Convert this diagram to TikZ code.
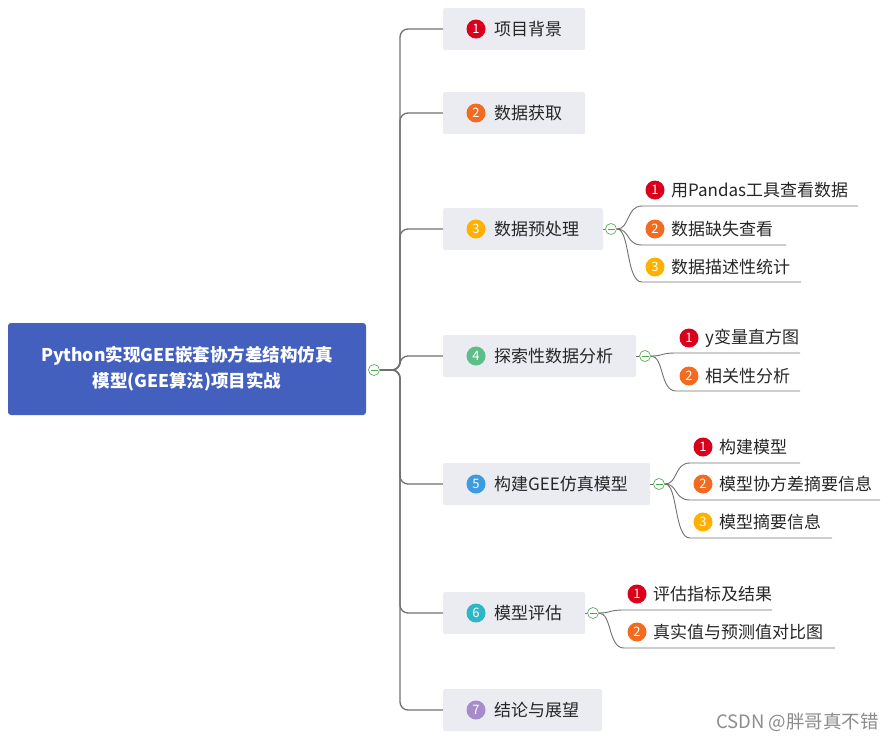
\documentclass[tikz,border=0pt]{standalone}
\usepackage{fontspec}
\setmainfont{Noto Sans CJK SC}
\begin{document}
\begin{tikzpicture}[x=1pt,y=-1pt,
  num/.style={circle,inner sep=0pt,minimum size=19pt,text=white,font=\fontsize{13}{13}\selectfont},
  lbl/.style={anchor=west,inner sep=0pt,font=\fontsize{17}{18}\selectfont,text=black!85},
  ln/.style={draw=linegray,line width=0.9pt},
  col/.style={circle,draw=green!50!black!70,fill=white,inner sep=0pt,minimum size=11pt,line width=0.6pt}]
\definecolor{boxgray}{HTML}{EBEBF2}
\definecolor{linegray}{HTML}{707070}
\definecolor{rootblue}{HTML}{4460BE}
\definecolor{c1}{HTML}{D9001B}\definecolor{c2}{HTML}{F26B21}\definecolor{c3}{HTML}{FFB000}
\definecolor{c4}{HTML}{5DBE8A}\definecolor{c5}{HTML}{3D9BE0}\definecolor{c6}{HTML}{2DB7C6}\definecolor{c7}{HTML}{A78CCB}
\useasboundingbox (0,0) rectangle (894,742);
% root
\node[fill=rootblue,rounded corners=3pt,minimum width=358pt,minimum height=92pt,align=center,text=white,font=\bfseries\fontsize{17.5}{26}\selectfont] (root) at (187,369) {Python实现GEE嵌套协方差结构仿真\\模型(GEE算法)项目实战};
% branches
\foreach \y/\w/\n [count=\i] in {29/142/a,113/142/b,229/160/c,356/193/d,484/207/e,613/142/f,710/159/g}{
  \draw[ln,line width=1.3pt,rounded corners=8pt] (380,370) -- (400,370) -- (400,\y) -- (443,\y);
  \fill[boxgray,rounded corners=2pt] (443,\y-21) rectangle ++(\w,42);
  \coordinate (b\n) at (443+\w,\y);
}
\node[col] (rc) at (374,370) {}; \draw[green!50!black!70,line width=0.6pt] (370.5,370)--(377.5,370);
\foreach \y/\c/\k/\t in {29/c1/1/项目背景,113/c2/2/数据获取,229/c3/3/数据预处理,356/c4/4/探索性数据分析,484/c5/5/构建GEE仿真模型,613/c6/6/模型评估,710/c7/7/结论与展望}{
  \node[num,fill=\c] (n\k) at (476,\y) {\k};
  \node[lbl] (t\k) at (494,\y) {\t};
}
% group 3
\draw[ln] (bc) -- (605,229);
\foreach \ty/\uy/\ex/\c/\k/\t in {190/206/858/c1/1/用Pandas工具查看数据,229/245/786/c2/2/数据缺失查看,267/282/801/c3/3/数据描述性统计}{
  \draw[ln] (617,229) .. controls (630,229) and (626,\uy) .. (642,\uy) -- (\ex,\uy);
  \node[num,fill=\c] at (655,\ty) {\k}; \node[lbl] at (671,\ty) {\t};}
\node[col] at (611,229) {}; \draw[green!50!black!70,line width=0.6pt] (607.5,229)--(614.5,229);
% group 4
\draw[ln] (bd) -- (639,356);
\foreach \ty/\uy/\ex/\c/\k/\t in {338/353/800/c1/1/y变量直方图,376/391/800/c2/2/相关性分析}{
  \draw[ln] (651,356) .. controls (664,356) and (660,\uy) .. (676,\uy) -- (\ex,\uy);
  \node[num,fill=\c] at (689,\ty) {\k}; \node[lbl] at (705,\ty) {\t};}
\node[col] at (645,356) {}; \draw[green!50!black!70,line width=0.6pt] (641.5,356)--(648.5,356);
% group 5
\draw[ln] (be) -- (653,484);
\foreach \ty/\uy/\ex/\c/\k/\t in {447/463/800/c1/1/构建模型,484/500/880/c2/2/模型协方差摘要信息,522/538/832/c3/3/模型摘要信息}{
  \draw[ln] (665,484) .. controls (678,484) and (674,\uy) .. (690,\uy) -- (\ex,\uy);
  \node[num,fill=\c] at (703,\ty) {\k}; \node[lbl] at (719,\ty) {\t};}
\node[col] at (659,484) {}; \draw[green!50!black!70,line width=0.6pt] (655.5,484)--(662.5,484);
% group 6
\draw[ln] (bf) -- (587,613);
\foreach \ty/\uy/\ex/\c/\k/\t in {594/610/772/c1/1/评估指标及结果,632/648/835/c2/2/真实值与预测值对比图}{
  \draw[ln] (599,613) .. controls (612,613) and (608,\uy) .. (624,\uy) -- (\ex,\uy);
  \node[num,fill=\c] at (637,\ty) {\k}; \node[lbl] at (653,\ty) {\t};}
\node[col] at (593,613) {}; \draw[green!50!black!70,line width=0.6pt] (589.5,613)--(596.5,613);
% watermark
\node[anchor=east,inner sep=0pt,text=black!45,font=\fontsize{18.5}{20}\selectfont] (wm) at (879,722) {CSDN @胖哥真不错};
\end{tikzpicture}
\end{document}
